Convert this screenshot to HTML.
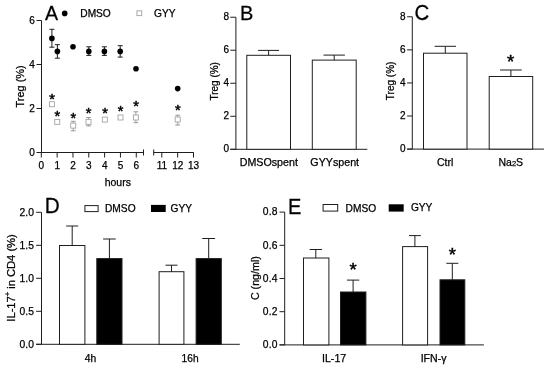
<!DOCTYPE html>
<html><head><meta charset="utf-8"><title>Figure</title>
<style>
html,body{margin:0;padding:0;background:#fff;width:550px;height:369px;overflow:hidden}
svg{display:block}
text{font-family:"Liberation Sans",Arial,Helvetica,sans-serif;fill:#000;stroke:#000;stroke-width:0.25px}
</style></head>
<body>
<svg width="550" height="369" viewBox="0 0 550 369">
<rect x="0" y="0" width="550" height="369" fill="#fff"/>
<line x1="41.5" y1="20.5" x2="41.5" y2="152.5" stroke="#1e1e1e" stroke-width="1"/>
<line x1="36.5" y1="152.5" x2="41.5" y2="152.5" stroke="#1e1e1e" stroke-width="1"/>
<text x="34.7" y="156.05" font-size="10" text-anchor="end" >0</text>
<line x1="36.5" y1="108.5" x2="41.5" y2="108.5" stroke="#1e1e1e" stroke-width="1"/>
<text x="34.7" y="112.05" font-size="10" text-anchor="end" >2</text>
<line x1="36.5" y1="64.5" x2="41.5" y2="64.5" stroke="#1e1e1e" stroke-width="1"/>
<text x="34.7" y="68.05" font-size="10" text-anchor="end" >4</text>
<line x1="36.5" y1="20.5" x2="41.5" y2="20.5" stroke="#1e1e1e" stroke-width="1"/>
<text x="34.7" y="24.05" font-size="10" text-anchor="end" >6</text>
<line x1="41" y1="152.5" x2="143.5" y2="152.5" stroke="#1e1e1e" stroke-width="1"/>
<line x1="143.5" y1="149.5" x2="143.5" y2="155.5" stroke="#1e1e1e" stroke-width="1"/>
<line x1="153.7" y1="149.5" x2="153.7" y2="155.5" stroke="#1e1e1e" stroke-width="1"/>
<line x1="153.7" y1="152.5" x2="193.8" y2="152.5" stroke="#1e1e1e" stroke-width="1"/>
<line x1="41.3" y1="152.5" x2="41.3" y2="157.5" stroke="#1e1e1e" stroke-width="1"/>
<text x="41.4" y="168.9" font-size="10" text-anchor="middle" >0</text>
<line x1="57.129999999999995" y1="152.5" x2="57.129999999999995" y2="157.5" stroke="#1e1e1e" stroke-width="1"/>
<text x="57.23" y="168.9" font-size="10" text-anchor="middle" >1</text>
<line x1="72.96" y1="152.5" x2="72.96" y2="157.5" stroke="#1e1e1e" stroke-width="1"/>
<text x="73.05999999999999" y="168.9" font-size="10" text-anchor="middle" >2</text>
<line x1="88.78999999999999" y1="152.5" x2="88.78999999999999" y2="157.5" stroke="#1e1e1e" stroke-width="1"/>
<text x="88.88999999999999" y="168.9" font-size="10" text-anchor="middle" >3</text>
<line x1="104.62" y1="152.5" x2="104.62" y2="157.5" stroke="#1e1e1e" stroke-width="1"/>
<text x="104.72" y="168.9" font-size="10" text-anchor="middle" >4</text>
<line x1="120.45" y1="152.5" x2="120.45" y2="157.5" stroke="#1e1e1e" stroke-width="1"/>
<text x="120.55" y="168.9" font-size="10" text-anchor="middle" >5</text>
<line x1="136.28" y1="152.5" x2="136.28" y2="157.5" stroke="#1e1e1e" stroke-width="1"/>
<text x="136.38" y="168.9" font-size="10" text-anchor="middle" >6</text>
<line x1="161.8" y1="152.5" x2="161.8" y2="157.5" stroke="#1e1e1e" stroke-width="1"/>
<text x="161.9" y="168.9" font-size="10" text-anchor="middle" >11</text>
<line x1="177.65" y1="152.5" x2="177.65" y2="157.5" stroke="#1e1e1e" stroke-width="1"/>
<text x="177.75" y="168.9" font-size="10" text-anchor="middle" >12</text>
<line x1="193.5" y1="152.5" x2="193.5" y2="157.5" stroke="#1e1e1e" stroke-width="1"/>
<text x="193.6" y="168.9" font-size="10" text-anchor="middle" >13</text>
<text x="117.8" y="186.3" font-size="10.5" text-anchor="middle" >hours</text>
<text x="0" y="0" font-size="11" text-anchor="middle" transform="translate(24.2,86.4) rotate(-90)" >Treg (%)</text>
<text font-size="19.6" transform="translate(45.1,19.7) scale(1.0,1.04)">A</text>
<circle cx="64.7" cy="13.4" r="2.8" fill="#000"/>
<text x="80.3" y="16.6" font-size="10.2" text-anchor="start" textLength="30.5">DMSO</text>
<rect x="136.9" y="10.8" width="4.8" height="4.8" fill="none" stroke="#aaa" stroke-width="1"/>
<text x="154.0" y="16.8" font-size="10.2" text-anchor="start" >GYY</text>
<line x1="51.9" y1="29.3" x2="51.9" y2="47.2" stroke="#1e1e1e" stroke-width="1"/>
<line x1="49.4" y1="29.3" x2="54.4" y2="29.3" stroke="#1e1e1e" stroke-width="1"/>
<line x1="49.4" y1="47.2" x2="54.4" y2="47.2" stroke="#1e1e1e" stroke-width="1"/>
<circle cx="51.9" cy="38.4" r="2.8" fill="#000"/>
<line x1="57.4" y1="44.7" x2="57.4" y2="58.2" stroke="#1e1e1e" stroke-width="1"/>
<line x1="54.9" y1="44.7" x2="59.9" y2="44.7" stroke="#1e1e1e" stroke-width="1"/>
<line x1="54.9" y1="58.2" x2="59.9" y2="58.2" stroke="#1e1e1e" stroke-width="1"/>
<circle cx="57.4" cy="51.4" r="2.8" fill="#000"/>
<circle cx="73.0" cy="46.8" r="2.8" fill="#000"/>
<line x1="88.8" y1="46.8" x2="88.8" y2="55.4" stroke="#1e1e1e" stroke-width="1"/>
<line x1="86.3" y1="46.8" x2="91.3" y2="46.8" stroke="#1e1e1e" stroke-width="1"/>
<line x1="86.3" y1="55.4" x2="91.3" y2="55.4" stroke="#1e1e1e" stroke-width="1"/>
<circle cx="88.8" cy="51.4" r="2.8" fill="#000"/>
<line x1="104.4" y1="46.8" x2="104.4" y2="55.4" stroke="#1e1e1e" stroke-width="1"/>
<line x1="101.9" y1="46.8" x2="106.9" y2="46.8" stroke="#1e1e1e" stroke-width="1"/>
<line x1="101.9" y1="55.4" x2="106.9" y2="55.4" stroke="#1e1e1e" stroke-width="1"/>
<circle cx="104.4" cy="51.4" r="2.8" fill="#000"/>
<line x1="120.2" y1="45.7" x2="120.2" y2="57.1" stroke="#1e1e1e" stroke-width="1"/>
<line x1="117.7" y1="45.7" x2="122.7" y2="45.7" stroke="#1e1e1e" stroke-width="1"/>
<line x1="117.7" y1="57.1" x2="122.7" y2="57.1" stroke="#1e1e1e" stroke-width="1"/>
<circle cx="120.2" cy="51.4" r="2.8" fill="#000"/>
<circle cx="136.0" cy="68.8" r="2.8" fill="#000"/>
<circle cx="177.7" cy="88.6" r="2.8" fill="#000"/>
<rect x="49.4" y="101.7" width="5" height="5" fill="#fff" stroke="#a4a4a4" stroke-width="0.9"/>
<text x="52.1" y="103.52" font-size="14.5" text-anchor="middle" style="stroke-width:0.5px">*</text>
<rect x="54.7" y="119.4" width="5" height="5" fill="#fff" stroke="#a4a4a4" stroke-width="0.9"/>
<text x="57.400000000000006" y="120.72" font-size="14.5" text-anchor="middle" style="stroke-width:0.5px">*</text>
<line x1="73.2" y1="121.3" x2="73.2" y2="130.8" stroke="#999" stroke-width="1"/>
<line x1="70.8" y1="121.3" x2="75.60000000000001" y2="121.3" stroke="#999" stroke-width="1"/>
<line x1="70.8" y1="130.8" x2="75.60000000000001" y2="130.8" stroke="#999" stroke-width="1"/>
<rect x="70.7" y="123.1" width="5" height="5" fill="#fff" stroke="#a4a4a4" stroke-width="0.9"/>
<text x="73.4" y="122.52" font-size="14.5" text-anchor="middle" style="stroke-width:0.5px">*</text>
<line x1="88.5" y1="117.5" x2="88.5" y2="125.9" stroke="#999" stroke-width="1"/>
<line x1="86.1" y1="117.5" x2="90.9" y2="117.5" stroke="#999" stroke-width="1"/>
<line x1="86.1" y1="125.9" x2="90.9" y2="125.9" stroke="#999" stroke-width="1"/>
<rect x="86.0" y="119.4" width="5" height="5" fill="#fff" stroke="#a4a4a4" stroke-width="0.9"/>
<text x="88.7" y="118.02" font-size="14.5" text-anchor="middle" style="stroke-width:0.5px">*</text>
<rect x="102.3" y="117.1" width="5" height="5" fill="#fff" stroke="#a4a4a4" stroke-width="0.9"/>
<text x="105.0" y="117.82" font-size="14.5" text-anchor="middle" style="stroke-width:0.5px">*</text>
<rect x="118.0" y="115.0" width="5" height="5" fill="#fff" stroke="#a4a4a4" stroke-width="0.9"/>
<text x="120.7" y="115.72" font-size="14.5" text-anchor="middle" style="stroke-width:0.5px">*</text>
<line x1="135.9" y1="111.8" x2="135.9" y2="122.7" stroke="#999" stroke-width="1"/>
<line x1="133.5" y1="111.8" x2="138.3" y2="111.8" stroke="#999" stroke-width="1"/>
<line x1="133.5" y1="122.7" x2="138.3" y2="122.7" stroke="#999" stroke-width="1"/>
<rect x="133.4" y="115.0" width="5" height="5" fill="#fff" stroke="#a4a4a4" stroke-width="0.9"/>
<text x="136.1" y="111.42" font-size="14.5" text-anchor="middle" style="stroke-width:0.5px">*</text>
<line x1="177.7" y1="115.2" x2="177.7" y2="125.0" stroke="#999" stroke-width="1"/>
<line x1="175.29999999999998" y1="115.2" x2="180.1" y2="115.2" stroke="#999" stroke-width="1"/>
<line x1="175.29999999999998" y1="125.0" x2="180.1" y2="125.0" stroke="#999" stroke-width="1"/>
<rect x="175.2" y="117.0" width="5" height="5" fill="#fff" stroke="#a4a4a4" stroke-width="0.9"/>
<text x="177.89999999999998" y="115.32" font-size="14.5" text-anchor="middle" style="stroke-width:0.5px">*</text>
<line x1="235.9" y1="17.2" x2="235.9" y2="149.3" stroke="#1e1e1e" stroke-width="1"/>
<line x1="230.3" y1="149.3" x2="235.9" y2="149.3" stroke="#1e1e1e" stroke-width="1"/>
<text x="229.1" y="152.3" font-size="10" text-anchor="end" >0</text>
<line x1="230.3" y1="116.28" x2="235.9" y2="116.28" stroke="#1e1e1e" stroke-width="1"/>
<text x="229.1" y="119.28" font-size="10" text-anchor="end" >2</text>
<line x1="230.3" y1="83.26" x2="235.9" y2="83.26" stroke="#1e1e1e" stroke-width="1"/>
<text x="229.1" y="86.26" font-size="10" text-anchor="end" >4</text>
<line x1="230.3" y1="50.24000000000001" x2="235.9" y2="50.24000000000001" stroke="#1e1e1e" stroke-width="1"/>
<text x="229.1" y="53.24000000000001" font-size="10" text-anchor="end" >6</text>
<line x1="230.3" y1="17.22" x2="235.9" y2="17.22" stroke="#1e1e1e" stroke-width="1"/>
<text x="229.1" y="20.22" font-size="10" text-anchor="end" >8</text>
<line x1="230.3" y1="149.3" x2="367.3" y2="149.3" stroke="#1e1e1e" stroke-width="1"/>
<rect x="246.8" y="55.3" width="43.69999999999999" height="94.00000000000001" fill="#fff" stroke="#1e1e1e" stroke-width="1"/>
<line x1="268.6" y1="55.3" x2="268.6" y2="50.4" stroke="#1e1e1e" stroke-width="1"/>
<line x1="258.1" y1="50.4" x2="279.1" y2="50.4" stroke="#1e1e1e" stroke-width="1"/>
<rect x="312.3" y="60.1" width="43.89999999999998" height="89.20000000000002" fill="#fff" stroke="#1e1e1e" stroke-width="1"/>
<line x1="334.2" y1="60.1" x2="334.2" y2="55.1" stroke="#1e1e1e" stroke-width="1"/>
<line x1="323.5" y1="55.1" x2="344.9" y2="55.1" stroke="#1e1e1e" stroke-width="1"/>
<text x="268.8" y="166.4" font-size="10.7" text-anchor="middle" >DMSOspent</text>
<text x="334.7" y="166.4" font-size="10.7" text-anchor="middle" >GYYspent</text>
<text font-size="20" transform="translate(239.9,20.0) scale(1.0,1.04)">B</text>
<text x="0" y="0" font-size="10" text-anchor="middle" transform="translate(218.0,81.3) rotate(-90)" >Treg (%)</text>
<line x1="412.3" y1="16.8" x2="412.3" y2="149.1" stroke="#1e1e1e" stroke-width="1"/>
<line x1="407.1" y1="149.1" x2="412.3" y2="149.1" stroke="#1e1e1e" stroke-width="1"/>
<text x="405.6" y="152.29999999999998" font-size="10" text-anchor="end" >0</text>
<line x1="407.1" y1="116.02" x2="412.3" y2="116.02" stroke="#1e1e1e" stroke-width="1"/>
<text x="405.6" y="119.22" font-size="10" text-anchor="end" >2</text>
<line x1="407.1" y1="82.94" x2="412.3" y2="82.94" stroke="#1e1e1e" stroke-width="1"/>
<text x="405.6" y="86.14" font-size="10" text-anchor="end" >4</text>
<line x1="407.1" y1="49.86" x2="412.3" y2="49.86" stroke="#1e1e1e" stroke-width="1"/>
<text x="405.6" y="53.06" font-size="10" text-anchor="end" >6</text>
<line x1="407.1" y1="16.78" x2="412.3" y2="16.78" stroke="#1e1e1e" stroke-width="1"/>
<text x="405.6" y="19.98" font-size="10" text-anchor="end" >8</text>
<line x1="407.1" y1="149.1" x2="544" y2="149.1" stroke="#1e1e1e" stroke-width="1"/>
<rect x="423.5" y="53.2" width="43.5" height="95.89999999999999" fill="#fff" stroke="#1e1e1e" stroke-width="1"/>
<line x1="445.3" y1="53.2" x2="445.3" y2="46.3" stroke="#1e1e1e" stroke-width="1"/>
<line x1="434.65000000000003" y1="46.3" x2="455.95" y2="46.3" stroke="#1e1e1e" stroke-width="1"/>
<rect x="489.2" y="76.5" width="43.50000000000006" height="72.6" fill="#fff" stroke="#1e1e1e" stroke-width="1"/>
<line x1="510.9" y1="76.5" x2="510.9" y2="70.0" stroke="#1e1e1e" stroke-width="1"/>
<line x1="500.04999999999995" y1="70.0" x2="521.75" y2="70.0" stroke="#1e1e1e" stroke-width="1"/>
<text x="510.7" y="67.67" font-size="18.5" text-anchor="middle" style="stroke-width:0.5px">*</text>
<text x="445.1" y="166.0" font-size="10.5" text-anchor="middle" >Ctrl</text>
<text x="510.8" y="165.8" font-size="10.5" text-anchor="middle" >Na<tspan font-size="7.5" dy="0.5">2</tspan><tspan dy="-0.5">S</tspan></text>
<text font-size="20" transform="translate(414.6,20.3) scale(1.02,1.08)">C</text>
<text x="0" y="0" font-size="10" text-anchor="middle" transform="translate(394.0,80.9) rotate(-90)" >Treg (%)</text>
<line x1="41.5" y1="212.3" x2="41.5" y2="344.3" stroke="#1e1e1e" stroke-width="1"/>
<line x1="36.1" y1="344.3" x2="41.5" y2="344.3" stroke="#1e1e1e" stroke-width="1"/>
<text x="34.0" y="347.8" font-size="10.3" text-anchor="end" textLength="14.6">0.0</text>
<line x1="36.1" y1="311.3" x2="41.5" y2="311.3" stroke="#1e1e1e" stroke-width="1"/>
<text x="34.0" y="314.8" font-size="10.3" text-anchor="end" textLength="14.6">0.5</text>
<line x1="36.1" y1="278.3" x2="41.5" y2="278.3" stroke="#1e1e1e" stroke-width="1"/>
<text x="34.0" y="281.8" font-size="10.3" text-anchor="end" textLength="14.6">1.0</text>
<line x1="36.1" y1="245.3" x2="41.5" y2="245.3" stroke="#1e1e1e" stroke-width="1"/>
<text x="34.0" y="248.8" font-size="10.3" text-anchor="end" textLength="14.6">1.5</text>
<line x1="36.1" y1="212.3" x2="41.5" y2="212.3" stroke="#1e1e1e" stroke-width="1"/>
<text x="34.0" y="215.8" font-size="10.3" text-anchor="end" textLength="14.6">2.0</text>
<line x1="36.1" y1="344.3" x2="239.8" y2="344.3" stroke="#1e1e1e" stroke-width="1"/>
<rect x="59.5" y="245.5" width="25.400000000000006" height="98.80000000000001" fill="#fff" stroke="#1e1e1e" stroke-width="1"/>
<line x1="72.2" y1="245.5" x2="72.2" y2="226.0" stroke="#1e1e1e" stroke-width="1"/>
<line x1="66.2" y1="226.0" x2="78.2" y2="226.0" stroke="#1e1e1e" stroke-width="1"/>
<rect x="96.8" y="258.6" width="25.200000000000003" height="85.69999999999999" fill="#000" stroke="#1e1e1e" stroke-width="1"/>
<line x1="109.4" y1="258.6" x2="109.4" y2="239.0" stroke="#1e1e1e" stroke-width="1"/>
<line x1="103.10000000000001" y1="239.0" x2="115.7" y2="239.0" stroke="#1e1e1e" stroke-width="1"/>
<rect x="159.1" y="271.7" width="24.80000000000001" height="72.60000000000002" fill="#fff" stroke="#1e1e1e" stroke-width="1"/>
<line x1="171.5" y1="271.7" x2="171.5" y2="265.2" stroke="#1e1e1e" stroke-width="1"/>
<line x1="165.5" y1="265.2" x2="177.5" y2="265.2" stroke="#1e1e1e" stroke-width="1"/>
<rect x="196.1" y="258.6" width="25.200000000000017" height="85.69999999999999" fill="#000" stroke="#1e1e1e" stroke-width="1"/>
<line x1="208.7" y1="258.6" x2="208.7" y2="238.5" stroke="#1e1e1e" stroke-width="1"/>
<line x1="202.29999999999998" y1="238.5" x2="215.1" y2="238.5" stroke="#1e1e1e" stroke-width="1"/>
<text x="90.5" y="361.6" font-size="10.3" text-anchor="middle" >4h</text>
<text x="190.1" y="361.6" font-size="10.2" text-anchor="middle" >16h</text>
<text font-size="20" transform="translate(44.8,213.2) scale(1.04,1.07)">D</text>
<rect x="84.9" y="205.6" width="13.2" height="6.0" fill="#fff" stroke="#1e1e1e" stroke-width="1"/>
<text x="105.0" y="212.1" font-size="10.2" text-anchor="start" textLength="30.6">DMSO</text>
<rect x="151.0" y="204.9" width="14.7" height="7.1" fill="#000" stroke="none" stroke-width="0"/>
<text x="170.6" y="212.1" font-size="10.2" text-anchor="start" >GYY</text>
<text x="0" y="0" font-size="11.3" text-anchor="middle" textLength="87.5" transform="translate(14.5,277.9) rotate(-90)">IL-17<tspan font-size="7.5" dy="-4.2">+</tspan><tspan dy="4.2"> in CD4 (%)</tspan></text>
<line x1="284.7" y1="212.1" x2="284.7" y2="344.9" stroke="#1e1e1e" stroke-width="1"/>
<line x1="279.5" y1="344.9" x2="284.7" y2="344.9" stroke="#1e1e1e" stroke-width="1"/>
<text x="277.4" y="348.2" font-size="10.3" text-anchor="end" textLength="14.6">0.0</text>
<line x1="279.5" y1="311.7" x2="284.7" y2="311.7" stroke="#1e1e1e" stroke-width="1"/>
<text x="277.4" y="315.0" font-size="10.3" text-anchor="end" textLength="14.6">0.2</text>
<line x1="279.5" y1="278.5" x2="284.7" y2="278.5" stroke="#1e1e1e" stroke-width="1"/>
<text x="277.4" y="281.8" font-size="10.3" text-anchor="end" textLength="14.6">0.4</text>
<line x1="279.5" y1="245.29999999999998" x2="284.7" y2="245.29999999999998" stroke="#1e1e1e" stroke-width="1"/>
<text x="277.4" y="248.6" font-size="10.3" text-anchor="end" textLength="14.6">0.6</text>
<line x1="279.5" y1="212.09999999999997" x2="284.7" y2="212.09999999999997" stroke="#1e1e1e" stroke-width="1"/>
<text x="277.4" y="215.39999999999998" font-size="10.3" text-anchor="end" textLength="14.6">0.8</text>
<line x1="279.5" y1="344.9" x2="483.9" y2="344.9" stroke="#1e1e1e" stroke-width="1"/>
<rect x="303.5" y="258.0" width="25.399999999999977" height="86.89999999999998" fill="#fff" stroke="#1e1e1e" stroke-width="1"/>
<line x1="315.8" y1="258.0" x2="315.8" y2="249.5" stroke="#1e1e1e" stroke-width="1"/>
<line x1="309.65000000000003" y1="249.5" x2="321.95" y2="249.5" stroke="#1e1e1e" stroke-width="1"/>
<rect x="340.5" y="292.0" width="25.399999999999977" height="52.89999999999998" fill="#000" stroke="#1e1e1e" stroke-width="1"/>
<line x1="353.1" y1="292.0" x2="353.1" y2="280.1" stroke="#1e1e1e" stroke-width="1"/>
<line x1="346.95000000000005" y1="280.1" x2="359.25" y2="280.1" stroke="#1e1e1e" stroke-width="1"/>
<rect x="402.6" y="246.6" width="25.0" height="98.29999999999998" fill="#fff" stroke="#1e1e1e" stroke-width="1"/>
<line x1="414.9" y1="246.6" x2="414.9" y2="235.6" stroke="#1e1e1e" stroke-width="1"/>
<line x1="409.0" y1="235.6" x2="420.79999999999995" y2="235.6" stroke="#1e1e1e" stroke-width="1"/>
<rect x="440.0" y="279.8" width="24.80000000000001" height="65.09999999999997" fill="#000" stroke="#1e1e1e" stroke-width="1"/>
<line x1="452.3" y1="279.8" x2="452.3" y2="263.3" stroke="#1e1e1e" stroke-width="1"/>
<line x1="446.3" y1="263.3" x2="458.3" y2="263.3" stroke="#1e1e1e" stroke-width="1"/>
<text x="353.2" y="275.87" font-size="18.5" text-anchor="middle" style="stroke-width:0.5px">*</text>
<text x="452.3" y="260.77" font-size="18.5" text-anchor="middle" style="stroke-width:0.5px">*</text>
<text x="334.1" y="361.6" font-size="10.7" text-anchor="middle" >IL-17</text>
<text x="433.6" y="361.5" font-size="10.6" text-anchor="middle" >IFN-γ</text>
<text font-size="20" transform="translate(288.0,213.6) scale(1.0,1.1)">E</text>
<rect x="323.1" y="204.5" width="14.6" height="6.6" fill="#fff" stroke="#1e1e1e" stroke-width="1"/>
<text x="345.6" y="211.6" font-size="10.2" text-anchor="start" >DMSO</text>
<rect x="388.7" y="204.3" width="15.0" height="7.3" fill="#000" stroke="none" stroke-width="0"/>
<text x="410.9" y="211.4" font-size="10.2" text-anchor="start" >GYY</text>
<text x="0" y="0" font-size="10.7" text-anchor="middle" transform="translate(259.1,278.1) rotate(-90)" >C (ng/ml)</text>
</svg>
</body></html>
